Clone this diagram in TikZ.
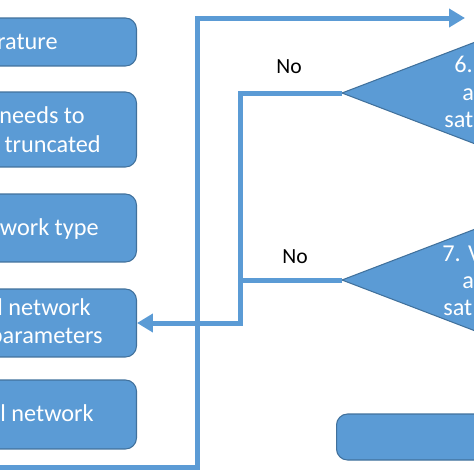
\documentclass[tikz,border=0pt]{standalone}
\usepackage{fontspec}
\setmainfont{Carlito}
\usetikzlibrary{arrows.meta}
\usetikzlibrary{shapes.geometric}
\definecolor{boxblue}{RGB}{91,155,213}
\definecolor{boxedge}{RGB}{65,113,156}

\begin{document}
\begin{tikzpicture}[x=0.02cm,y=-0.02cm,
  box/.style={draw=boxedge,fill=boxblue,rounded corners=0.22cm,line width=0.6pt,minimum width=5.6cm,inner sep=0},
  dec/.style={diamond,draw=boxedge,fill=boxblue,line width=0.6pt,minimum width=6.8cm,minimum height=2.6cm,inner sep=0,outer sep=0},
  flow/.style={draw=boxblue,line width=0.1cm},
  lbl/.style={text=white,font=\fontsize{13.8}{15.9}\selectfont,inner sep=0},
  nolbl/.style={font=\fontsize{12.3}{14}\selectfont,inner sep=0,anchor=base},
  >={Triangle[length=0.32cm,width=0.36cm]}]
\useasboundingbox (0,0) rectangle (474,474);
\clip (0,0) rectangle (474,474);
% left column
\node[box,anchor=east,minimum height=0.96cm] (b1) at (137,42) {};
\node[box,anchor=east,minimum height=1.5cm] (b2) at (137,129.5) {};
\node[box,anchor=east,minimum height=1.36cm] (b3) at (137,228) {};
\node[box,anchor=east,minimum height=1.36cm] (b4) at (137,323) {};
\node[box,anchor=east,minimum height=1.38cm] (b5) at (137,414.5) {};
\node[lbl,anchor=base east] (t1) at (58,49) {rature};
\node[lbl,anchor=base east] (t2a) at (85,123) {needs to};
\node[lbl,anchor=base east] (t2b) at (101,152) {r truncated};
\node[lbl,anchor=base east] (t3) at (99,235) {twork type};
\node[lbl,anchor=base east] (t4a) at (91,315) {l network};
\node[lbl,anchor=base east] (t4b) at (103,343) {parameters};
\node[lbl,anchor=base east] (t5) at (94,421) {al network};
% right column
\node[dec,anchor=west] (d6) at (342,93) {};
\node[dec,anchor=west] (d7) at (342,280) {};
\node[lbl,anchor=base west] (t6a) at (454,72) {6.};
\node[lbl,anchor=base west] (t6b) at (462,100) {a};
\node[lbl,anchor=base west] (t6c) at (444,127) {sat};
\node[lbl,anchor=base west] (t7a) at (442,261) {7. V};
\node[lbl,anchor=base west] (t7b) at (462,288) {a};
\node[lbl,anchor=base west] (t7c) at (443,315) {sat};
\node[box,anchor=west,minimum height=0.92cm] (b8) at (336,437) {};
% connectors
\coordinate (lin) at (-10,467);
\coordinate (lout) at (465,18);
\coordinate (bend) at (240,323);
\draw[flow,->] (lin) -- ++(207,0) |- (lout);
\draw[flow,->] (d6.west) -| (bend) -- (b4.east);
\draw[flow] (d7.west) -- (d7.west -| bend);
\node[nolbl] (no6) at (289,73) {No};
\node[nolbl] (no7) at (295,263) {No};
\end{tikzpicture}
\end{document}
